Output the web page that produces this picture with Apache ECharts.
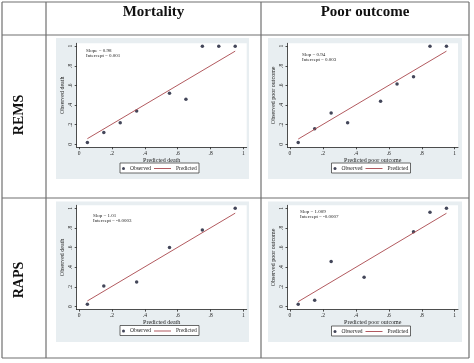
<!DOCTYPE html>
<html>
<head>
<meta charset="utf-8">
<script src="https://cdn.jsdelivr.net/npm/echarts@6/dist/echarts.min.js"></script>
<style>
html,body{margin:0;padding:0;background:#fff;}
#c{width:474px;height:363px;}
</style>
</head>
<body>
<div id="c"></div>
<script>
// ---- data ----
const colHeaders = ['Mortality', 'Poor outcome'];
const rowHeaders = ['REMS', 'RAPS'];
const tickValues = [0, 0.2, 0.4, 0.6, 0.8, 1];
const tickLabels = ['0', '.2', '.4', '.6', '.8', '1'];

const remsMortObsX = [0.05, 0.15, 0.25, 0.35, 0.55, 0.65, 0.75, 0.85, 0.95];
const remsMortObsY = [0.02, 0.12, 0.22, 0.34, 0.52, 0.46, 1.0, 1.0, 1.0];
const remsMortPredX = [0.05, 0.95];
const remsMortPredY = [0.058, 0.95];

const remsPoorObsX = [0.05, 0.15, 0.25, 0.35, 0.55, 0.65, 0.75, 0.85, 0.95];
const remsPoorObsY = [0.02, 0.16, 0.32, 0.22, 0.44, 0.615, 0.69, 1.0, 1.0];
const remsPoorPredX = [0.05, 0.95];
const remsPoorPredY = [0.054, 0.95];

const rapsMortObsX = [0.05, 0.15, 0.35, 0.55, 0.75, 0.95];
const rapsMortObsY = [0.024, 0.21, 0.25, 0.60, 0.78, 1.0];
const rapsMortPredX = [0.05, 0.95];
const rapsMortPredY = [0.058, 0.95];

const rapsPoorObsX = [0.05, 0.15, 0.25, 0.45, 0.75, 0.85, 0.95];
const rapsPoorObsY = [0.024, 0.065, 0.46, 0.30, 0.76, 0.96, 1.0];
const rapsPoorPredX = [0.05, 0.95];
const rapsPoorPredY = [0.051, 0.949];

const annotations = [
  ['Slope = 0.98', 'Intercept = 0.001'],
  ['Slop = 0.94', 'Intercept = 0.003'],
  ['Slop = 1.01', 'Intercept = -0.0003'],
  ['Slop = 1.009', 'Intercept = -0.0007']
];
const xTitles = ['Predicted death', 'Predicted poor outcome', 'Predicted death', 'Predicted poor outcome'];
const yTitles = ['Observed death', 'Observed poor outcome', 'Observed death', 'Observed poor outcome'];
const legendNames = ['Observed', 'Predicted'];

// ---- layout (pixels) ----
const panels = [
  {bg:[56,38,193,141], grid:[76.7,43.3,170,104], ann:[86,48], leg:[120,163]},
  {bg:[268,38,194,141], grid:[287.5,43.3,170.5,104], ann:[302,52], leg:[331.5,163]},
  {bg:[56,201.5,193,140.5], grid:[76.7,205.3,170,104.3], ann:[93,213], leg:[120,325.5]},
  {bg:[268,201.5,194,140.5], grid:[287.5,205.3,170.5,104.3], ann:[300,209.5], leg:[331.5,326]}
];
const obs = [[remsMortObsX, remsMortObsY],[remsPoorObsX, remsPoorObsY],[rapsMortObsX, rapsMortObsY],[rapsPoorObsX, rapsPoorObsY]];
const pred = [[remsMortPredX, remsMortPredY],[remsPoorPredX, remsPoorPredY],[rapsMortPredX, rapsMortPredY],[rapsPoorPredX, rapsPoorPredY]];

const BG = '#e8eef1';
const AX = '#222';
const FONT = 'Liberation Serif';
const zip = (a, b) => a.map((v, i) => [v, b[i]]);
const fmt = v => { const k = tickValues.findIndex(t => Math.abs(t - v) < 1e-6); return k >= 0 ? tickLabels[k] : ''; };

const grids = [], xAxes = [], yAxes = [], series = [], legends = [], elements = [];

panels.forEach((p, i) => {
  grids.push({left:p.grid[0], top:p.grid[1], width:p.grid[2], height:p.grid[3],
    show:true, backgroundColor:'#fff', borderWidth:0});
  const axCommon = {
    gridIndex:i, type:'value', splitLine:{show:false},
    axisLine:{show:true, onZero:false, lineStyle:{color:AX, width:0.8}},
    axisTick:{show:true, length:2, lineStyle:{color:AX, width:0.8}, customValues:tickValues},
    nameLocation:'middle',
    nameTextStyle:{fontFamily:FONT, fontSize:6, color:'#222'}
  };
  xAxes.push(Object.assign({}, axCommon, {
    min:-0.015, max:1.02, name:xTitles[i], nameGap:8,
    axisLabel:{customValues:tickValues, formatter:fmt, fontFamily:FONT, fontSize:5.5, color:'#222', margin:3}
  }));
  yAxes.push(Object.assign({}, axCommon, {
    min:-0.03, max:1.03, name:yTitles[i], nameGap:11,
    axisLabel:{customValues:tickValues, rotate:90, formatter:fmt, fontFamily:FONT, fontSize:5.5, color:'#222', margin:3}
  }));
  series.push({type:'scatter', name:legendNames[0], xAxisIndex:i, yAxisIndex:i,
    data:zip(obs[i][0], obs[i][1]), symbol:'circle', symbolSize:3.5,
    itemStyle:{color:'#141830'}});
  series.push({type:'line', name:legendNames[1], xAxisIndex:i, yAxisIndex:i,
    data:zip(pred[i][0], pred[i][1]), symbol:'none',
    lineStyle:{color:'#a9474d', width:0.9}, itemStyle:{color:'#a9474d'}});
  // legend frame
  const [lx, ly] = p.leg;
  elements.push({type:'rect', shape:{x:lx, y:ly, width:79, height:10}, style:{fill:'#fff', stroke:'#444', lineWidth:0.8}, z:-5});
  legends.push({left:lx+2, top:ly+2.5, data:[{name:legendNames[0], icon:'circle'}], itemWidth:3, itemHeight:3,
    textStyle:{fontFamily:FONT, fontSize:5.5, color:'#222'}, padding:0, selectedMode:false});
  legends.push({left:lx+34, top:ly+2.5, data:[{name:legendNames[1], icon:'rect', itemStyle:{color:'#a9474d'}}], itemWidth:17, itemHeight:0.9,
    textStyle:{fontFamily:FONT, fontSize:5.5, color:'#222', lineHeight:5}, padding:0, selectedMode:false});
  // panel background
  elements.push({type:'rect', shape:{x:p.bg[0], y:p.bg[1], width:p.bg[2], height:p.bg[3]}, style:{fill:BG}, z:-10});
  // annotation
  elements.push({type:'text', x:p.ann[0], y:p.ann[1], style:{text:annotations[i].join('\n'), font:'5px "Liberation Serif"', fill:'#222', lineHeight:5}, z:10});
});

// table lines
const LC = '#707070';
const hl = (y, x1, x2) => elements.push({type:'line', shape:{x1:x1, y1:y, x2:x2, y2:y}, style:{stroke:LC, lineWidth:1.2}, z:20});
const vl = (x, y1, y2) => elements.push({type:'line', shape:{x1:x, y1:y1, x2:x, y2:y2}, style:{stroke:LC, lineWidth:1.2}, z:20});
hl(2, 2, 469); hl(35, 2, 469); hl(198, 2, 469); hl(358, 2, 469);
vl(2, 2, 358); vl(46, 2, 358); vl(261, 2, 358); vl(469, 2, 358);

// headers
elements.push({type:'text', x:153.5, y:12, style:{text:colHeaders[0], font:'bold 15px "Liberation Serif"', fill:'#111', textAlign:'center', textVerticalAlign:'middle'}, z:20});
elements.push({type:'text', x:365, y:12, style:{text:colHeaders[1], font:'bold 15px "Liberation Serif"', fill:'#111', textAlign:'center', textVerticalAlign:'middle'}, z:20});
elements.push({type:'text', x:19, y:115, rotation:Math.PI/2, style:{text:rowHeaders[0], font:'bold 14px "Liberation Serif"', fill:'#111', textAlign:'center', textVerticalAlign:'middle'}, z:20});
elements.push({type:'text', x:19, y:280, rotation:Math.PI/2, style:{text:rowHeaders[1], font:'bold 14px "Liberation Serif"', fill:'#111', textAlign:'center', textVerticalAlign:'middle'}, z:20});

const chart = echarts.init(document.getElementById('c'), null, {renderer:'canvas'});
chart.setOption({
  animation:false,
  backgroundColor:'#fff',
  grid:grids, xAxis:xAxes, yAxis:yAxes, series:series, legend:legends,
  graphic:{elements:elements}
});
</script>
</body>
</html>
